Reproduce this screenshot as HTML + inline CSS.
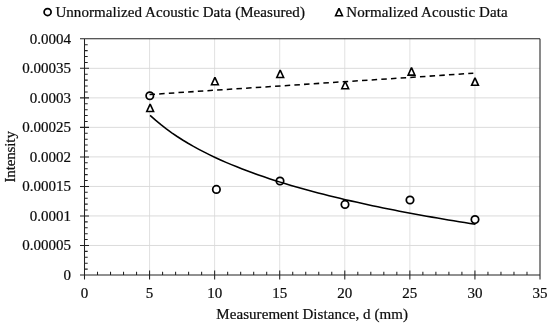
<!DOCTYPE html>
<html><head><meta charset="utf-8"><title>Chart</title>
<style>html,body{margin:0;padding:0;background:#fff}body{width:550px;height:325px;overflow:hidden}svg{display:block}text{font-family:"Liberation Serif","Times New Roman",serif;font-size:15px;fill:#0d0d0d;stroke:#0d0d0d;stroke-width:0.22px}</style></head><body>
<svg width="550" height="325" viewBox="0 0 550 325">
<rect width="550" height="325" fill="#fff"/>
<path d="M149.57 38.80V275.00M214.64 38.80V275.00M279.71 38.80V275.00M344.79 38.80V275.00M409.86 38.80V275.00M474.93 38.80V275.00" stroke="#e1e1e1" stroke-width="1" fill="none"/>
<path d="M84.50 245.47H540.00M84.50 215.95H540.00M84.50 186.43H540.00M84.50 156.90H540.00M84.50 127.38H540.00M84.50 97.85H540.00M84.50 68.33H540.00" stroke="#d9d9d9" stroke-width="0.95" fill="none"/>
<path d="M80.00 38.80H540.00M540.00 38.80V279.50M80.00 275.00H540.00M84.50 38.80V279.50M80.00 245.47H89.00M80.00 215.95H89.00M80.00 186.43H89.00M80.00 156.90H89.00M80.00 127.38H89.00M80.00 97.85H89.00M80.00 68.33H89.00M149.57 270.50V279.50M214.64 270.50V279.50M279.71 270.50V279.50M344.79 270.50V279.50M409.86 270.50V279.50M474.93 270.50V279.50M84.50 269.10H87.70M84.50 263.19H87.70M84.50 257.29H87.70M84.50 251.38H87.70M84.50 239.57H87.70M84.50 233.66H87.70M84.50 227.76H87.70M84.50 221.86H87.70M84.50 210.05H87.70M84.50 204.14H87.70M84.50 198.24H87.70M84.50 192.33H87.70M84.50 180.52H87.70M84.50 174.62H87.70M84.50 168.71H87.70M84.50 162.81H87.70M84.50 151.00H87.70M84.50 145.09H87.70M84.50 139.19H87.70M84.50 133.28H87.70M84.50 121.47H87.70M84.50 115.57H87.70M84.50 109.66H87.70M84.50 103.75H87.70M84.50 91.95H87.70M84.50 86.04H87.70M84.50 80.13H87.70M84.50 74.23H87.70M84.50 62.42H87.70M84.50 56.51H87.70M84.50 50.61H87.70M84.50 44.70H87.70M97.51 271.80V275.00M110.53 271.80V275.00M123.54 271.80V275.00M136.56 271.80V275.00M162.59 271.80V275.00M175.60 271.80V275.00M188.61 271.80V275.00M201.63 271.80V275.00M227.66 271.80V275.00M240.67 271.80V275.00M253.69 271.80V275.00M266.70 271.80V275.00M292.73 271.80V275.00M305.74 271.80V275.00M318.76 271.80V275.00M331.77 271.80V275.00M357.80 271.80V275.00M370.81 271.80V275.00M383.83 271.80V275.00M396.84 271.80V275.00M422.87 271.80V275.00M435.89 271.80V275.00M448.90 271.80V275.00M461.91 271.80V275.00M487.94 271.80V275.00M500.96 271.80V275.00M513.97 271.80V275.00M526.99 271.80V275.00" stroke="#222" stroke-width="1.05" fill="none"/>
<circle cx="149.8" cy="95.7" r="3.7" fill="#fff" stroke="#000" stroke-width="1.75"/>
<circle cx="216.4" cy="189.4" r="3.7" fill="#fff" stroke="#000" stroke-width="1.75"/>
<circle cx="280" cy="181" r="3.7" fill="#fff" stroke="#000" stroke-width="1.75"/>
<circle cx="345" cy="204.4" r="3.7" fill="#fff" stroke="#000" stroke-width="1.75"/>
<circle cx="410" cy="200" r="3.7" fill="#fff" stroke="#000" stroke-width="1.75"/>
<circle cx="475" cy="219.6" r="3.7" fill="#fff" stroke="#000" stroke-width="1.75"/>
<path d="M150.15 104.05L153.55 111.45H146.75Z" fill="#fff" stroke="#000" stroke-width="1.6" stroke-linejoin="miter" stroke-miterlimit="2"/>
<path d="M214.90 77.35L218.30 84.75H211.50Z" fill="#fff" stroke="#000" stroke-width="1.6" stroke-linejoin="miter" stroke-miterlimit="2"/>
<path d="M280.20 70.10L283.60 77.50H276.80Z" fill="#fff" stroke="#000" stroke-width="1.6" stroke-linejoin="miter" stroke-miterlimit="2"/>
<path d="M345.20 81.30L348.60 88.70H341.80Z" fill="#fff" stroke="#000" stroke-width="1.6" stroke-linejoin="miter" stroke-miterlimit="2"/>
<path d="M411.50 67.70L414.90 75.10H408.10Z" fill="#fff" stroke="#000" stroke-width="1.6" stroke-linejoin="miter" stroke-miterlimit="2"/>
<path d="M475.00 77.90L478.40 85.30H471.60Z" fill="#fff" stroke="#000" stroke-width="1.6" stroke-linejoin="miter" stroke-miterlimit="2"/>
<path d="M150.07 115.30 L155.49 120.17 L160.92 124.68 L166.34 128.88 L171.76 132.80 L177.18 136.49 L182.61 139.97 L188.03 143.26 L193.45 146.38 L198.88 149.34 L204.30 152.17 L209.72 154.88 L215.14 157.47 L220.57 159.95 L225.99 162.34 L231.41 164.63 L236.83 166.84 L242.26 168.98 L247.68 171.04 L253.10 173.03 L258.52 174.97 L263.95 176.84 L269.37 178.65 L274.79 180.42 L280.21 182.13 L285.64 183.80 L291.06 185.42 L296.48 187.00 L301.90 188.54 L307.33 190.04 L312.75 191.51 L318.17 192.94 L323.60 194.34 L329.02 195.70 L334.44 197.04 L339.86 198.35 L345.29 199.63 L350.71 200.88 L356.13 202.11 L361.55 203.32 L366.98 204.50 L372.40 205.66 L377.82 206.80 L383.24 207.91 L388.67 209.01 L394.09 210.08 L399.51 211.14 L404.93 212.18 L410.36 213.20 L415.78 214.21 L421.20 215.20 L426.62 216.17 L432.05 217.13 L437.47 218.07 L442.89 219.00 L448.32 219.92 L453.74 220.82 L459.16 221.71 L464.58 222.58 L470.01 223.44 L475.43 224.29" stroke="#000" stroke-width="1.55" fill="none" stroke-linecap="butt"/>
<path d="M149.50 94.52L473.30 73.25" stroke="#000" stroke-width="1.52" fill="none" stroke-dasharray="5.5 4.18"/>
<circle cx="47.6" cy="12" r="3.5" fill="#fff" stroke="#000" stroke-width="1.75"/>
<text x="55.4" y="16.8" textLength="249.5" lengthAdjust="spacing">Unnormalized Acoustic Data (Measured)</text>
<path d="M339.00 8.30L342.40 15.70H335.60Z" fill="#fff" stroke="#000" stroke-width="1.6" stroke-linejoin="miter" stroke-miterlimit="2"/>
<text x="346.3" y="16.8" textLength="161.4" lengthAdjust="spacing">Normalized Acoustic Data</text>
<text x="71" y="279.70" text-anchor="end">0</text>
<text x="71" y="250.17" text-anchor="end">0.00005</text>
<text x="71" y="220.65" text-anchor="end">0.0001</text>
<text x="71" y="191.12" text-anchor="end">0.00015</text>
<text x="71" y="161.60" text-anchor="end">0.0002</text>
<text x="71" y="132.07" text-anchor="end">0.00025</text>
<text x="71" y="102.55" text-anchor="end">0.0003</text>
<text x="71" y="73.03" text-anchor="end">0.00035</text>
<text x="71" y="43.50" text-anchor="end">0.0004</text>
<text x="84.50" y="298.3" text-anchor="middle">0</text>
<text x="149.57" y="298.3" text-anchor="middle">5</text>
<text x="214.64" y="298.3" text-anchor="middle">10</text>
<text x="279.71" y="298.3" text-anchor="middle">15</text>
<text x="344.79" y="298.3" text-anchor="middle">20</text>
<text x="409.86" y="298.3" text-anchor="middle">25</text>
<text x="474.93" y="298.3" text-anchor="middle">30</text>
<text x="540.00" y="298.3" text-anchor="middle">35</text>
<text x="216.3" y="318.7" textLength="191.6" lengthAdjust="spacing">Measurement Distance, d (mm)</text>
<text transform="translate(15.0 182.6) rotate(-90)" textLength="51.5" lengthAdjust="spacing">Intensity</text>
</svg></body></html>
